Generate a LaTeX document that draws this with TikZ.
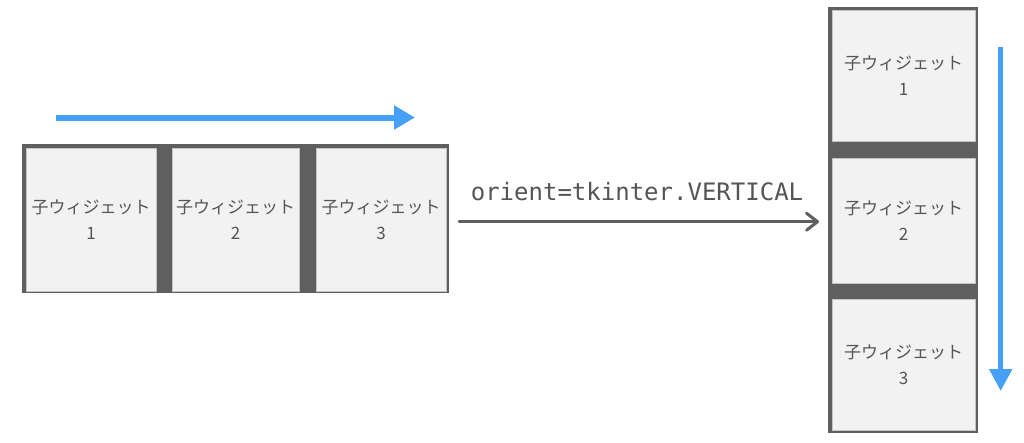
\documentclass[tikz,border=0pt]{standalone}
\usepackage{fontspec}
\newfontfamily\jpfont{Noto Sans CJK JP}
\newfontfamily\codefont{DejaVu Sans Mono}
\usetikzlibrary{arrows.meta}
\definecolor{framecol}{HTML}{5F5F5F}
\definecolor{cellcol}{HTML}{F2F2F2}
\definecolor{celllinecol}{HTML}{C4C4C4}
\definecolor{flowcol}{HTML}{46A0F7}
\definecolor{txtcol}{HTML}{555555}
\begin{document}
\begin{tikzpicture}[x=1pt,y=-1pt,
  framebox/.style={fill=framecol, draw=none, inner sep=0pt, minimum width=#1},
  cellbox/.style={fill=cellcol, draw=celllinecol, line width=0.8pt, inner sep=0pt,
    align=center, text=txtcol, font=\jpfont\fontsize{17}{26}\selectfont},
  flowarrow/.style={draw=flowcol, line width=6pt, -{Triangle[length=21pt,width=23pt]}},
  flowarrowv/.style={draw=flowcol, line width=5pt, -{Triangle[length=22pt,width=22pt]}},
  convarrow/.style={draw=framecol, line width=3pt, line cap=round,
    -{Straight Barb[length=11pt,width=17pt,line cap=round,line join=round]}},
  codetext/.style={text=txtcol, font=\codefont\fontsize{24}{28}\selectfont, inner sep=0pt}
]
\useasboundingbox (0,0) rectangle (1024,442);
\fill[white] (0,0) rectangle (1024,442);

% left group
\node[framebox=427pt, minimum height=149pt] (lframe) at (235.5,218.5) {};
\node[cellbox, minimum width=130pt, minimum height=143pt] (l1) at (91,219.5) {子ウィジェット\\1};
\node[cellbox, minimum width=127pt, minimum height=143pt] (l2) at (235.5,219.5) {子ウィジェット\\2};
\node[cellbox, minimum width=130pt, minimum height=143pt] (l3) at (381,219.5) {子ウィジェット\\3};

% horizontal flow arrow
\coordinate (h1) at (56,117.5);
\coordinate (h2) at (415,117.5);
\draw[flowarrow] (h1) -- (h2);

% right group
\node[framebox=150pt, minimum height=426pt] (rframe) at (903,220) {};
\node[cellbox, minimum width=143pt, minimum height=131pt] (r1) at (903.5,75.5) {子ウィジェット\\1};
\node[cellbox, minimum width=143pt, minimum height=125pt] (r2) at (903.5,220.5) {子ウィジェット\\2};
\node[cellbox, minimum width=143pt, minimum height=131pt] (r3) at (903.5,364.5) {子ウィジェット\\3};

% vertical flow arrow
\coordinate (v1) at (1000.7,47);
\coordinate (v2) at (1000.7,391);
\draw[flowarrowv] (v1) -- (v2);

% conversion arrow
\coordinate (m1) at (459,221.7);
\coordinate (m2) at (819,221.7);
\draw[convarrow] (m1) -- (m2);
\node[codetext, anchor=base] (lbl) at (637,200.7) {orient=tkinter.VERTICAL};
\end{tikzpicture}
\end{document}
